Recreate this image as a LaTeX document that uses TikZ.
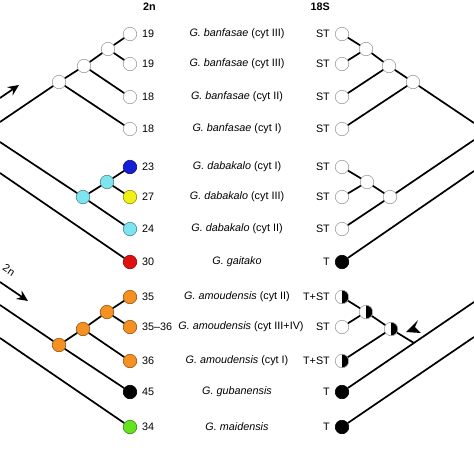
\documentclass[tikz,border=0pt]{standalone}
\usepackage{fontspec}
\setmainfont{Liberation Sans}
\usetikzlibrary{arrows.meta}
\definecolor{cBlue}{RGB}{20,30,215}
\definecolor{cYellow}{RGB}{240,240,20}
\definecolor{cCyan}{RGB}{125,228,240}
\definecolor{cRed}{RGB}{225,15,15}
\definecolor{cOrange}{RGB}{245,145,35}
\definecolor{cGreen}{RGB}{100,228,30}
\begin{document}
\begin{tikzpicture}[x=1pt,y=-1pt,
 tline/.style={line width=1.7pt, black},
 dotbase/.style={circle, minimum size=13.5pt, inner sep=0pt, line width=0.6pt},
 wdot/.style={dotbase, draw=gray!75, fill=white},
 cdot/.style={dotbase, draw=#1!60!black, fill=#1},
 bdot/.style={dotbase, draw=black, fill=black},
 hdot/.style={dotbase, draw=gray!75, fill=white, path picture={\fill[black] (path picture bounding box.north) rectangle (path picture bounding box.south east);}},
 labtxt/.style={font=\fontsize{10.8}{12}\selectfont, inner sep=0pt},
 numl/.style={labtxt, anchor=west},
 spname/.style={labtxt, anchor=center},
 stl/.style={labtxt, anchor=east},
 hdr/.style={font=\bfseries\fontsize{10.8}{12}\selectfont, inner sep=0pt}
]
\fill[white] (0,0) rectangle (474,474);
\useasboundingbox (0,0) rectangle (474,474);

% headers
\node[hdr, anchor=west] (h2n) at (143,7) {2n};
\node[hdr, anchor=east] (h18) at (330,7) {18S};

% left tips
\node[wdot] (l1) at (130,34) {};
\node[wdot] (l2) at (130,64) {};
\node[wdot] (l3) at (130,97) {};
\node[wdot] (l4) at (130,129) {};
\node[cdot=cBlue] (l5) at (130,167) {};
\node[cdot=cYellow] (l6) at (130,197) {};
\node[cdot=cCyan] (l7) at (130,229) {};
\node[cdot=cRed] (l8) at (130,262) {};
\node[cdot=cOrange] (l9) at (130,297) {};
\node[cdot=cOrange] (l10) at (130,327) {};
\node[cdot=cOrange] (l11) at (130,361) {};
\node[bdot] (l12) at (130,392) {};
\node[cdot=cGreen] (l13) at (130,427) {};

% left internal
\node[wdot] (na) at (108,49) {};
\node[wdot] (nb) at (84,66) {};
\node[wdot] (nc) at (59,82) {};
\node[cdot=cCyan] (ne) at (107,182) {};
\node[cdot=cCyan] (nd) at (83,197) {};
\node[cdot=cOrange] (nh) at (107,312) {};
\node[cdot=cOrange] (ng) at (83,329) {};
\node[cdot=cOrange] (nf) at (59,345) {};

\coordinate (L1) at (0,122);
\coordinate (L2) at (0,142);
\coordinate (L3) at (0,173);
\coordinate (L4) at (0,305);
\coordinate (L5) at (0,338);

% right tips
\node[wdot] (r1) at (342,34) {};
\node[wdot] (r2) at (342,64) {};
\node[wdot] (r3) at (342,97) {};
\node[wdot] (r4) at (342,129) {};
\node[wdot] (r5) at (342,167) {};
\node[wdot] (r6) at (342,197) {};
\node[wdot] (r7) at (342,229) {};
\node[bdot] (r8) at (342,262) {};
\node[hdot] (r9) at (342,297) {};
\node[wdot] (r10) at (342,327) {};
\node[hdot] (r11) at (342,361) {};
\node[bdot] (r12) at (342,392) {};
\node[bdot] (r13) at (342,427) {};

% right internal
\node[wdot] (ra) at (366,49) {};
\node[wdot] (rb) at (389,66) {};
\node[wdot] (rc) at (413,82) {};
\node[wdot] (rd) at (367,182) {};
\node[wdot] (re) at (390,197) {};
\node[hdot] (rf) at (366,312) {};
\node[hdot] (rg) at (391,329) {};
\coordinate (rh) at (414,343);

\coordinate (R1) at (474,123);
\coordinate (R2) at (474,140);
\coordinate (R3) at (474,171);
\coordinate (R4) at (474,302);
\coordinate (R5) at (474,337);

% left edges
\draw[tline] (L1) -- (nc) (nc) -- (nb) (nc) -- (l4) (nb) -- (na) (nb) -- (l3) (na) -- (l1) (na) -- (l2);
\draw[tline] (L2) -- (nd) (nd) -- (ne) (nd) -- (l7) (ne) -- (l5) (ne) -- (l6);
\draw[tline] (L3) -- (l8);
\draw[tline] (L4) -- (nf) (nf) -- (ng) (nf) -- (l12) (ng) -- (nh) (ng) -- (l11) (nh) -- (l9) (nh) -- (l10);
\draw[tline] (L5) -- (l13);

% right edges
\draw[tline] (R1) -- (rc) (rc) -- (rb) (rc) -- (r4) (rb) -- (ra) (rb) -- (r3) (ra) -- (r1) (ra) -- (r2);
\draw[tline] (R2) -- (re) (re) -- (rd) (re) -- (r7) (rd) -- (r5) (rd) -- (r6);
\draw[tline] (R3) -- (r8);
\draw[tline] (R4) -- (r12) (rh) -- (rg) (rg) -- (rf) (rg) -- (r11) (rf) -- (r9) (rf) -- (r10);
\draw[tline] (R5) -- (r13);

% arrows
\coordinate (ua) at (0,98);
\coordinate (ub) at (19,85);
\draw[tline, -{Stealth[length=11pt,width=10pt]}] (ua) -- (ub);
\coordinate (da) at (0,282);
\coordinate (db) at (28,301);
\draw[tline, -{Stealth[length=11pt,width=10pt]}] (da) -- (db);
\node[labtxt, rotate=-34] (lab2n) at (9,270) {2n};

% marker arrowhead
\fill[black] (406,332) -- (418,320) -- (415,327) -- (421,333) -- cycle;

% labels
\node[numl] (n1) at (142,34) {19};
\node[numl] (n2) at (142,64) {19};
\node[numl] (n3) at (142,97) {18};
\node[numl] (n4) at (142,129) {18};
\node[numl] (n5) at (142,167) {23};
\node[numl] (n6) at (142,197) {27};
\node[numl] (n7) at (142,229) {24};
\node[numl] (n8) at (142,262) {30};
\node[numl] (n9) at (142,297) {35};
\node[numl] (n10) at (142,327) {35–36};
\node[numl] (n11) at (142,361) {36};
\node[numl] (n12) at (142,392) {45};
\node[numl] (n13) at (142,427) {34};

\node[spname] (s1) at (237,34) {\textit{G. banfasae} (cyt III)};
\node[spname] (s2) at (237,64) {\textit{G. banfasae} (cyt III)};
\node[spname] (s3) at (237,97) {\textit{G. banfasae} (cyt II)};
\node[spname] (s4) at (237,129) {\textit{G. banfasae} (cyt I)};
\node[spname] (s5) at (237,167) {\textit{G. dabakalo} (cyt I)};
\node[spname] (s6) at (237,197) {\textit{G. dabakalo} (cyt III)};
\node[spname] (s7) at (237,229) {\textit{G. dabakalo} (cyt II)};
\node[spname] (s8) at (237,262) {\textit{G. gaitako}};
\node[spname] (s9) at (237,297) {\textit{G. amoudensis} (cyt II)};
\node[spname] (s10) at (241,327) {\textit{G. amoudensis} (cyt III+IV)};
\node[spname] (s11) at (237,361) {\textit{G. amoudensis} (cyt I)};
\node[spname] (s12) at (237,392) {\textit{G. gubanensis}};
\node[spname] (s13) at (237,427) {\textit{G. maidensis}};

\node[stl] (t1) at (330,34) {ST};
\node[stl] (t2) at (330,64) {ST};
\node[stl] (t3) at (330,97) {ST};
\node[stl] (t4) at (330,129) {ST};
\node[stl] (t5) at (330,167) {ST};
\node[stl] (t6) at (330,197) {ST};
\node[stl] (t7) at (330,229) {ST};
\node[stl] (t8) at (330,262) {T};
\node[stl] (t9) at (330,297) {T+ST};
\node[stl] (t10) at (330,327) {ST};
\node[stl] (t11) at (330,361) {T+ST};
\node[stl] (t12) at (330,392) {T};
\node[stl] (t13) at (330,427) {T};
\end{tikzpicture}
\end{document}
